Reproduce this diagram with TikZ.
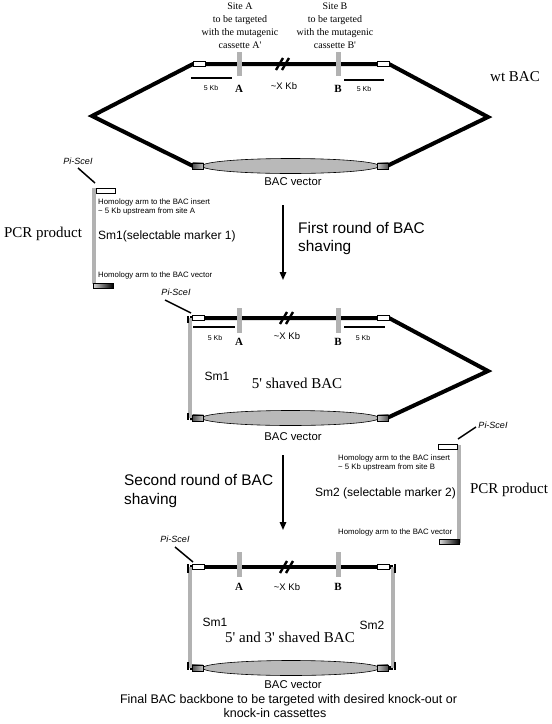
\documentclass[tikz,border=0pt]{standalone}
\usepackage{fontspec}
\setmainfont{Liberation Serif}
\setsansfont{Liberation Sans}
\usetikzlibrary{arrows.meta,shapes.geometric}
\tikzset{
  bac/.style={line width=4pt, line join=miter},
  sitebar/.style={draw=gray!60, line width=5pt},
  smbar/.style={draw=gray!60, line width=4pt},
  kbline/.style={line width=1.4pt},
  brk/.style={line width=2.4pt},
  tick/.style={line width=1.6pt},
  armbox/.style={rectangle, draw, fill=white, line width=0.7pt, minimum width=12pt, minimum height=5pt, inner sep=0pt},
  vecendL/.style={rectangle, draw, line width=0.5pt, left color=black!70, middle color=white, right color=gray!45, minimum width=11pt, minimum height=6.5pt, inner sep=0pt},
  vecendR/.style={rectangle, draw, line width=0.5pt, left color=gray!45, middle color=white, right color=black!70, minimum width=11pt, minimum height=6.5pt, inner sep=0pt},
  vector/.style={ellipse, draw, line width=0.6pt, fill=gray!55, inner sep=0pt, minimum width=177pt, minimum height=15pt},
  pcrarm/.style={rectangle, draw, fill=white, line width=0.7pt, minimum width=19pt, minimum height=5pt, inner sep=0pt},
  pcrvec/.style={rectangle, draw, line width=0.7pt, left color=gray!30, right color=black, minimum width=20pt, minimum height=5pt, inner sep=0pt},
  sitetxt/.style={font=\fontsize{10}{13}\selectfont, align=center, inner sep=0pt},
  kbtxt/.style={font=\sffamily\fontsize{7}{8}\selectfont, inner sep=0pt},
  xtxt/.style={font=\sffamily\fontsize{9.5}{11}\selectfont, inner sep=0pt},
  abtxt/.style={font=\bfseries\fontsize{11}{12}\selectfont, inner sep=0pt},
  bigser/.style={font=\fontsize{15}{17}\selectfont, inner sep=0pt},
  vectxt/.style={font=\sffamily\fontsize{11.3}{13}\selectfont, inner sep=0pt},
  pitxt/.style={font=\sffamily\itshape\fontsize{9}{10}\selectfont, inner sep=0pt},
  homtxt/.style={font=\sffamily\fontsize{7.8}{9}\selectfont, inner sep=0pt, anchor=west},
  smtxt/.style={font=\sffamily\fontsize{12}{14}\selectfont, inner sep=0pt},
  steptxt/.style={font=\sffamily\fontsize{15.4}{18.5}\selectfont, align=left, inner sep=0pt, anchor=west},
  fintxt/.style={font=\sffamily\fontsize{12.5}{13}\selectfont, inner sep=0pt},
  pline/.style={line width=1.5pt},
  arr/.style={line width=1.5pt, -{Triangle[length=8pt,width=6.5pt]}}
}
\begin{document}
\begin{tikzpicture}[x=1pt,y=-1pt]
\useasboundingbox (0,0) rectangle (552,724);

% ================= wt BAC =================
\node[sitetxt] (siteA) at (240,25.5) {Site A\\to be targeted\\with the mutagenic\\cassette A\textquotesingle};
\node[sitetxt] (siteB) at (335,25.5) {Site B\\to be targeted\\with the mutagenic\\cassette B\textquotesingle};
\coordinate (w-lv) at (92,116);
\coordinate (w-tl) at (193,64);
\coordinate (w-tr) at (389,64);
\coordinate (w-rv) at (488,117);
\coordinate (w-br) at (387,166);
\coordinate (w-bl) at (193,166);
\draw[bac] (w-tr) -- (w-tl) -- (w-lv) -- (w-bl) -- (w-br) -- (w-rv) -- cycle;
\draw[sitebar] (239,52) -- (239,76);
\draw[sitebar] (338,52) -- (338,76);
\draw[brk] (276,70) -- (283,58);
\draw[brk] (282,70) -- (289,58);
\node[armbox] (w-armL) at (199,64) {};
\node[armbox] (w-armR) at (383,64) {};
\node[vector] (w-vec) at (290.5,166) {};
\node[vecendL] (w-veL) at (198,166) {};
\node[vecendR] (w-veR) at (383,166) {};
\draw[kbline] (191,78) -- (232,78);
\draw[kbline] (344,80) -- (384,80);
\node[kbtxt] (w-kb1) at (211,88) {5 Kb};
\node[abtxt] (w-A) at (239,89) {A};
\node[xtxt] (w-x) at (284,86) {\textasciitilde X Kb};
\node[abtxt] (w-B) at (338,89) {B};
\node[kbtxt] (w-kb2) at (364,89) {5 Kb};
\node[bigser] (wt) at (515,77) {wt BAC};
\node[vectxt] (w-vt) at (293,182) {BAC vector};

% ================= PCR product 1 =================
\coordinate (p1-top) at (94,188);
\coordinate (p1-bot) at (94,284);
\draw[smbar] (p1-top) -- (p1-bot);
\node[pcrarm] (p1-arm) at (106,190.5) {};
\node[pcrvec] (p1-vec) at (103,285.5) {};
\node[pitxt] (p1-pi) at (78,161) {Pi-SceI};
\coordinate (p1-ps) at (78,168);
\coordinate (p1-pt) at (95,183);
\draw[pline] (p1-ps) -- (p1-pt);
\node[homtxt] (p1-h1) at (98,202) {Homology arm to the BAC insert};
\node[homtxt] (p1-h2) at (98,211) {\textasciitilde\ 5 Kb upstream from site A};
\node[smtxt, anchor=west] (p1-sm) at (98,236) {Sm1(selectable marker 1)};
\node[homtxt] (p1-h3) at (98,275) {Homology arm to the BAC vector};
\node[bigser] (p1-lab) at (43,234) {PCR product};

% ================= arrow 1 =================
\coordinate (a1-s) at (283,205);
\coordinate (a1-e) at (283,280);
\draw[arr] (a1-s) -- (a1-e);
\node[steptxt] (a1-t) at (298,238.5) {First round of BAC\\shaving};

% ================= 5' shaved BAC =================
\coordinate (s-tl) at (190,318);
\coordinate (s-tr) at (389,318);
\coordinate (s-rv) at (488,371);
\coordinate (s-br) at (387,418);
\coordinate (s-bl) at (190,418);
\draw[bac] (s-tl) -- (s-tr) -- (s-rv) -- (s-br) -- (s-bl);
\draw[smbar] (s-tl) -- (s-bl);
\draw[tick] (188,316) -- (188,323);
\draw[tick] (188,413) -- (188,420);
\draw[sitebar] (239,308) -- (239,333);
\draw[sitebar] (338,308) -- (338,333);
\draw[brk] (280,324) -- (287,312);
\draw[brk] (286,324) -- (293,312);
\node[armbox] (s-armL) at (198,318) {};
\node[armbox] (s-armR) at (383,318) {};
\node[vector] (s-vec) at (290.5,418) {};
\node[vecendL] (s-veL) at (198,418) {};
\node[vecendR] (s-veR) at (383,418) {};
\draw[kbline] (193,327) -- (235,327);
\draw[kbline] (344,327) -- (385,327);
\node[kbtxt] (s-kb1) at (215,338) {5 Kb};
\node[abtxt] (s-A) at (239,342) {A};
\node[xtxt] (s-x) at (287,336) {\textasciitilde X Kb};
\node[abtxt] (s-B) at (338,342) {B};
\node[kbtxt] (s-kb2) at (363,338) {5 Kb};
\node[pitxt] (s-pi) at (176,292) {Pi-SceI};
\coordinate (s-ps) at (165,300);
\coordinate (s-pt) at (191,313);
\draw[pline] (s-ps) -- (s-pt);
\node[smtxt] (s-sm1) at (217,376) {Sm1};
\node[bigser] (s-lab) at (297,383) {5\textquotesingle\ shaved BAC};
\node[vectxt] (s-vt) at (293,437) {BAC vector};

% ================= PCR product 2 =================
\coordinate (p2-top) at (459,445);
\coordinate (p2-bot) at (459,543);
\draw[smbar] (p2-top) -- (p2-bot);
\node[pcrarm] (p2-arm) at (447.5,447) {};
\node[pcrvec] (p2-vec) at (449.5,541.5) {};
\node[pitxt] (p2-pi) at (493,425) {Pi-SceI};
\coordinate (p2-pt) at (458,439);
\coordinate (p2-ps) at (476,427);
\draw[pline] (p2-pt) -- (p2-ps);
\node[homtxt] (p2-h1) at (338,458) {Homology arm to the BAC insert};
\node[homtxt] (p2-h2) at (338,467) {\textasciitilde\ 5 Kb upstream from site B};
\node[smtxt, anchor=west] (p2-sm) at (315,493) {Sm2 (selectable marker 2)};
\node[homtxt] (p2-h3) at (338,532) {Homology arm to the BAC vector};
\node[bigser] (p2-lab) at (509,490) {PCR product};

% ================= arrow 2 =================
\coordinate (a2-s) at (283,455);
\coordinate (a2-e) at (283,530);
\draw[arr] (a2-s) -- (a2-e);
\node[steptxt] (a2-t) at (124,491) {Second round of BAC\\shaving};

% ================= final BAC =================
\coordinate (f-tl) at (190,567);
\coordinate (f-tr) at (393,567);
\coordinate (f-br) at (393,668);
\coordinate (f-bl) at (190,668);
\draw[bac] (f-tl) -- (f-tr);
\draw[bac] (f-bl) -- (f-br);
\draw[smbar] (f-tl) -- (f-bl);
\draw[smbar] (f-tr) -- (f-br);
\draw[tick] (188,564) -- (188,573);
\draw[tick] (188,662) -- (188,670);
\draw[tick] (395,564) -- (395,573);
\draw[tick] (395,662) -- (395,670);
\draw[sitebar] (239,552) -- (239,577);
\draw[sitebar] (338,552) -- (338,577);
\draw[brk] (280,573) -- (287,561);
\draw[brk] (286,573) -- (293,561);
\node[armbox] (f-armL) at (198,567) {};
\node[armbox] (f-armR) at (383,567) {};
\node[vector] (f-vec) at (291,668) {};
\node[vecendL] (f-veL) at (197.5,668) {};
\node[vecendR] (f-veR) at (382.5,668) {};
\node[abtxt] (f-A) at (239,587) {A};
\node[xtxt] (f-x) at (287,587) {\textasciitilde X Kb};
\node[abtxt] (f-B) at (338,587) {B};
\node[pitxt] (f-pi) at (175,539) {Pi-SceI};
\coordinate (f-ps) at (175,547);
\coordinate (f-pt) at (193,562);
\draw[pline] (f-ps) -- (f-pt);
\node[smtxt] (f-sm1) at (215,622) {Sm1};
\node[smtxt] (f-sm2) at (372,625) {Sm2};
\node[bigser] (f-lab) at (290,637) {5\textquotesingle\ and 3\textquotesingle\ shaved BAC};
\node[vectxt] (f-vt) at (293,685) {BAC vector};
\node[fintxt] (fin1) at (288.5,700) {Final BAC backbone to be targeted with desired knock-out or};
\node[fintxt] (fin2) at (275,713) {knock-in cassettes};
\end{tikzpicture}
\end{document}
